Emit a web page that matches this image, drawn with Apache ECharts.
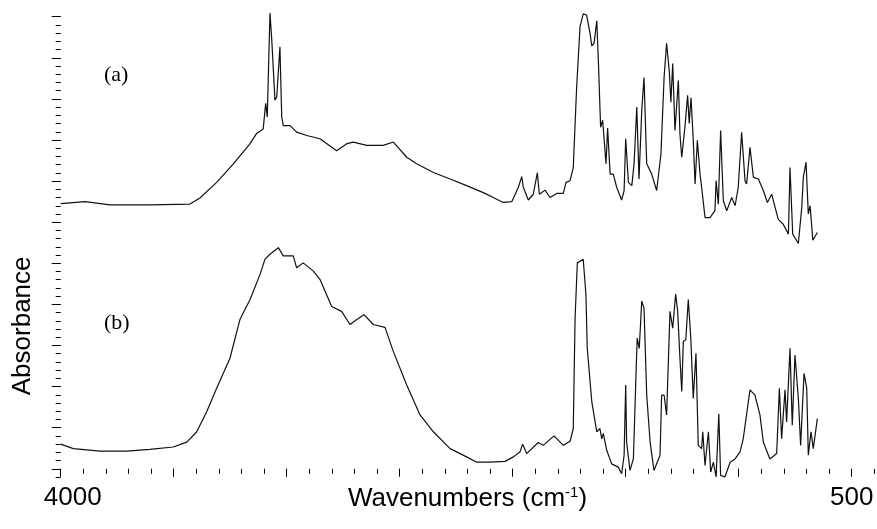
<!DOCTYPE html>
<html><head><meta charset="utf-8">
<script src="https://cdn.jsdelivr.net/npm/echarts@6/dist/echarts.min.js"></script>
<style>html,body{margin:0;padding:0;background:#fff}#c{width:877px;height:529px}</style>
</head><body><div id="c"></div>
<script>
// Spectrum (a): [wavenumber cm-1, absorbance (offset, as plotted)]
const waveA = [4000,3892,3782,3605,3428,3384,3310,3236,3162,3133,3104,3093,3086,3074,3066,3052,3044,3030,3022,3015,2985,2956,2911,2853,2779,2734,2705,2646,2573,2528,2469,2425,2351,2277,2204,2130,2086,2042,2004,1975,1960,1953,1931,1909,1891,1882,1857,1835,1805,1776,1764,1746,1732,1717,1702,1688,1673,1658,1650,1640,1628,1621,1611,1602,1587,1580,1569,1555,1540,1518,1507,1500,1488,1473,1463,1451,1441,1429,1419,1407,1385,1363,1344,1330,1319,1307,1300,1292,1282,1267,1260,1252,1238,1226,1219,1211,1201,1193,1183,1171,1164,1149,1127,1105,1100,1090,1080,1068,1053,1031,1016,1002,987,972,965,950,935,913,891,873,854,839,825,803,780,773,761,736,721,714,702,692,684,672,652];
const absA = [0.645,0.650,0.642,0.642,0.644,0.659,0.697,0.742,0.791,0.816,0.827,0.889,0.856,1.109,1.043,0.897,0.905,1.027,0.856,0.835,0.835,0.819,0.811,0.803,0.774,0.791,0.795,0.787,0.787,0.795,0.758,0.742,0.721,0.705,0.689,0.672,0.660,0.648,0.650,0.685,0.711,0.685,0.654,0.668,0.720,0.668,0.678,0.660,0.670,0.670,0.697,0.701,0.733,0.929,1.076,1.107,1.104,1.060,1.029,1.035,1.090,0.994,0.831,0.848,0.742,0.829,0.717,0.717,0.685,0.654,0.677,0.803,0.697,0.689,0.742,0.880,0.705,0.872,0.952,0.742,0.717,0.677,0.766,0.954,1.035,0.966,0.892,0.986,0.823,0.945,0.815,0.758,0.831,0.909,0.840,0.903,0.799,0.693,0.799,0.717,0.685,0.611,0.611,0.628,0.701,0.644,0.823,0.652,0.628,0.660,0.640,0.685,0.819,0.701,0.693,0.782,0.709,0.705,0.677,0.648,0.668,0.636,0.607,0.595,0.571,0.733,0.571,0.548,0.636,0.709,0.746,0.620,0.640,0.556,0.575];
// Spectrum (b)
const waveB = [4000,3944,3826,3708,3605,3502,3442,3398,3354,3310,3251,3207,3162,3118,3096,3074,3037,3015,2971,2956,2927,2882,2853,2801,2757,2720,2690,2658,2617,2565,2528,2469,2410,2351,2277,2204,2159,2100,2034,1997,1968,1956,1938,1887,1865,1817,1776,1746,1732,1724,1714,1688,1676,1670,1650,1628,1614,1606,1599,1584,1562,1533,1518,1507,1500,1496,1481,1466,1454,1449,1440,1429,1419,1407,1392,1375,1348,1341,1330,1319,1304,1292,1279,1270,1260,1252,1245,1234,1223,1212,1201,1189,1179,1164,1159,1149,1134,1124,1112,1100,1088,1080,1061,1038,1016,994,980,950,928,906,891,862,832,820,810,795,788,773,763,751,736,726,711,699,692,680,670,652];
const absB = [0.060,0.049,0.043,0.043,0.047,0.053,0.065,0.090,0.139,0.196,0.269,0.363,0.412,0.473,0.510,0.522,0.538,0.518,0.518,0.489,0.501,0.481,0.461,0.395,0.383,0.351,0.363,0.375,0.351,0.344,0.285,0.204,0.131,0.090,0.049,0.029,0.016,0.016,0.018,0.029,0.041,0.060,0.037,0.064,0.057,0.080,0.057,0.067,0.098,0.367,0.501,0.510,0.424,0.293,0.163,0.090,0.098,0.073,0.086,0.045,0.012,0.004,-0.012,0.033,0.204,0.065,-0.004,0.024,0.236,0.318,0.293,0.408,0.391,0.179,0.065,-0.004,0.033,0.179,0.179,0.131,0.383,0.342,0.425,0.383,0.269,0.188,0.310,0.314,0.412,0.318,0.171,0.281,0.057,0.049,0.090,0.008,0.090,-0.008,0.016,-0.020,0.134,-0.016,-0.020,0.016,0.024,0.041,0.073,0.192,0.179,0.131,0.065,0.024,0.037,0.196,0.073,0.192,0.114,0.293,0.106,0.277,0.171,0.057,0.232,0.196,0.033,0.090,0.049,0.122];
const majorTicks = [500,1000,1500,2000,2500,3000,3500,4000];
const xLabels = [500,4000];
const yMajor = [0,0.1,0.2,0.3,0.4,0.5,0.6,0.7,0.8,0.9,1.0,1.1];
const labelA = '(a)', labelB = '(b)';

const chart = echarts.init(document.getElementById('c'), null, {renderer:'canvas'});
const pairs = (w, a) => w.map((x, i) => [x, a[i]]);
const FONT = '"Liberation Sans", Arial, sans-serif';
const axisX = {type:'value', min:400, max:4000, inverse:true, position:'bottom',
  axisLine:{show:false}, splitLine:{show:false}};
const axisY = {type:'value', min:-0.02, max:1.1,
  axisLine:{show:false}, splitLine:{show:false}};
chart.setOption({
  animation:false,
  backgroundColor:'#fff',
  grid:{left:60.7, right:2.7, top:16.7, bottom:52, containLabel:false, outerBoundsMode:'none'},
  xAxis:[
    Object.assign({}, axisX, {interval:100, axisTick:{show:true, length:5, lineStyle:{color:'#000', width:1}}, axisLabel:{show:false}}),
    Object.assign({}, axisX, {interval:100, axisTick:{show:true, length:8, customValues:majorTicks, lineStyle:{color:'#000', width:1}},
      axisLabel:{show:true, customValues:xLabels, formatter:(v)=> v === 4000 ? '{l|4000}' : String(v),
        rich:{l:{padding:[0,0,0,24], fontSize:26, fontFamily:FONT, color:'#000'}},
        color:'#000', fontFamily:FONT, fontSize:26, margin:8},
      name:'Wavenumbers (cm{sup|-1})', nameLocation:'middle', nameGap:8, nameMoveOverlap:false,
      nameTextStyle:{color:'#000', fontFamily:FONT, fontSize:26, rich:{sup:{fontSize:15, verticalAlign:'top', padding:[0,0,12,0], fontFamily:FONT, color:'#000'}}}})
  ],
  yAxis:[
    Object.assign({}, axisY, {interval:0.02, axisTick:{show:true, length:5, lineStyle:{color:'#000'}}, axisLabel:{show:false},
      name:'Absorbance', nameLocation:'middle', nameGap:25, nameRotate:90, nameMoveOverlap:false,
      nameTextStyle:{color:'#000', fontFamily:FONT, fontSize:26, padding:[0,158,0,0]}}),
    Object.assign({}, axisY, {position:'left', interval:0.02, axisTick:{show:true, length:9, customValues:yMajor, lineStyle:{color:'#000'}}, axisLabel:{show:false}})
  ],
  series:[
    {type:'line', xAxisIndex:0, yAxisIndex:0, data:pairs(waveA, absA), symbol:'none', clip:false,
      lineStyle:{color:'#111', width:1.2}},
    {type:'line', xAxisIndex:0, yAxisIndex:0, data:pairs(waveB, absB), symbol:'none', clip:false,
      lineStyle:{color:'#111', width:1.2}}
  ],
  graphic:[
    {type:'text', left:104, top:64, style:{text:labelA, font:'22px "Liberation Serif", "Times New Roman", serif', fill:'#000'}},
    {type:'text', left:104, top:312, style:{text:labelB, font:'22px "Liberation Serif", "Times New Roman", serif', fill:'#000'}}
  ]
});
</script></body></html>
